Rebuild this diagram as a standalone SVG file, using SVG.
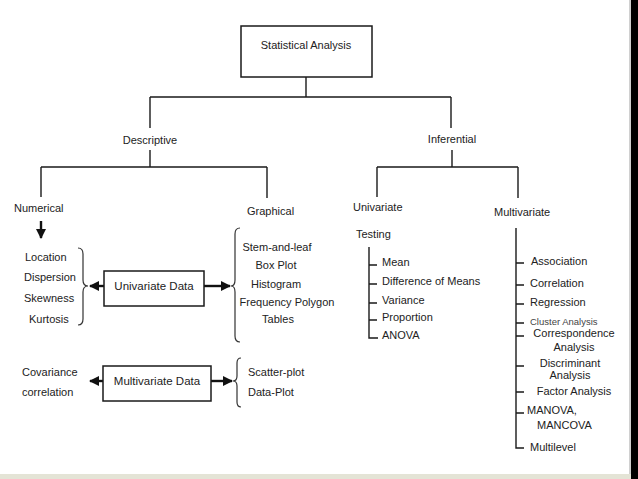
<svg xmlns="http://www.w3.org/2000/svg" width="638" height="479" viewBox="0 0 638 479">
<defs>
<style>
text{font-family:"Liberation Sans",Arial,sans-serif;font-size:11px;fill:#222}
.m{text-anchor:middle}
.b{font-size:11.5px}
.s{font-size:9.5px;fill:#444}
.ln{fill:none;stroke:#1a1a1a;stroke-width:1.4}
.ar{fill:none;stroke:#111;stroke-width:2.4}
.br{fill:none;stroke:#333;stroke-width:1.2}
.box{fill:#fff;stroke:#1a1a1a;stroke-width:1.5}
</style>
<marker id="ah" viewBox="0 0 10 10" refX="9" refY="5" markerWidth="4.2" markerHeight="4.2" orient="auto" markerUnits="strokeWidth">
<path d="M0,0 L10,5 L0,10 z" fill="#111"/>
</marker>
</defs>
<rect width="638" height="479" fill="#fff"/>
<rect x="631" y="0" width="7" height="479" fill="#000"/>
<rect x="629" y="0" width="2" height="474" fill="#d0d0d0"/>
<rect x="0" y="474" width="631" height="5" fill="#e4e4d6"/>

<g id="connectors">
<path class="ln" d="M306,77 V97 M150,97 H451 M150,97 V128 M451,97 V128"/>
<path class="ln" d="M150,150 V167 M41,167 H267 M41,167 V197 M267,167 V198"/>
<path class="ln" d="M452,150 V167 M377,167 H518 M377,167 V197 M518,167 V198"/>
<path class="ar" d="M41,221 V238" marker-end="url(#ah)"/>
<path class="ar" d="M104,286 H90" marker-end="url(#ah)"/>
<path class="ar" d="M204,286 H230" marker-end="url(#ah)"/>
<path class="ar" d="M103,381 H90" marker-end="url(#ah)"/>
<path class="ar" d="M211,381 H232" marker-end="url(#ah)"/>
<path class="br" d="M78,248 Q83,248 83,254 V280 Q83,286 88,286 Q83,286 83,292 V319 Q83,325 78,325"/>
<path class="br" d="M240,228 Q235,228 235,234 V280 Q235,286 231,286 Q235,286 235,292 V336 Q235,342 240,342"/>
<path class="br" d="M241,358 Q237,358 237,363 V376 Q237,381 233,381 Q237,381 237,386 V402 Q237,407 241,407"/>
<path class="ln" d="M369,247 V338 H378 M369,265 H377 M369,284 H377 M369,303 H377 M369,320 H377"/>
<path class="ln" d="M516,228 V448 H524 M516,263 H524 M516,285 H524 M516,304 H524 M516,323 H524 M516,336 H524 M516,366 H524 M516,392 H524 M516,413 H524"/>
</g>

<g id="statistical-analysis">
<rect class="box" x="241" y="26" width="131" height="51"/>
<text class="m" x="306" y="49">Statistical Analysis</text>
</g>
<g id="descriptive"><text class="m" x="150" y="144">Descriptive</text></g>
<g id="inferential"><text class="m" x="452" y="143">Inferential</text></g>
<g id="numerical"><text x="14" y="212">Numerical</text></g>
<g id="graphical"><text x="247" y="215">Graphical</text></g>
<g id="numerical-list">
<text x="25" y="261">Location</text>
<text x="24" y="281">Dispersion</text>
<text x="24" y="302">Skewness</text>
<text x="29" y="323">Kurtosis</text>
</g>
<g id="univariate-data">
<rect class="box" x="104" y="271" width="100" height="35"/>
<text class="m b" x="154" y="290">Univariate Data</text>
</g>
<g id="graphical-list">
<text class="m" x="277" y="251">Stem-and-leaf</text>
<text class="m" x="276" y="269">Box Plot</text>
<text class="m" x="276" y="288">Histogram</text>
<text class="m" x="287" y="306">Frequency Polygon</text>
<text class="m" x="278" y="323">Tables</text>
</g>
<g id="multivariate-data">
<rect class="box" x="103" y="366" width="108" height="35"/>
<text class="m b" x="157" y="385">Multivariate Data</text>
</g>
<g id="multivariate-left">
<text x="22" y="376">Covariance</text>
<text x="22" y="396">correlation</text>
</g>
<g id="multivariate-right">
<text x="248" y="376">Scatter-plot</text>
<text x="248" y="396">Data-Plot</text>
</g>
<g id="univariate"><text x="353" y="211">Univariate</text></g>
<g id="multivariate"><text x="494" y="216">Multivariate</text></g>
<g id="testing">
<text x="356" y="238">Testing</text>
<text x="382" y="266">Mean</text>
<text x="382" y="285">Difference of Means</text>
<text x="382" y="304">Variance</text>
<text x="382" y="321">Proportion</text>
<text x="382" y="339">ANOVA</text>
</g>
<g id="multivariate-list">
<text x="531" y="265">Association</text>
<text x="530" y="287">Correlation</text>
<text x="530" y="306">Regression</text>
<text class="s" x="530" y="325">Cluster Analysis</text>
<text class="m" x="574" y="337">Correspondence</text>
<text class="m" x="574" y="351">Analysis</text>
<text class="m" x="570" y="367">Discriminant</text>
<text class="m" x="570" y="379">Analysis</text>
<text class="m" x="574" y="395">Factor Analysis</text>
<text x="527" y="414">MANOVA,</text>
<text x="537" y="429">MANCOVA</text>
<text x="530" y="451">Multilevel</text>
</g>
</svg>
